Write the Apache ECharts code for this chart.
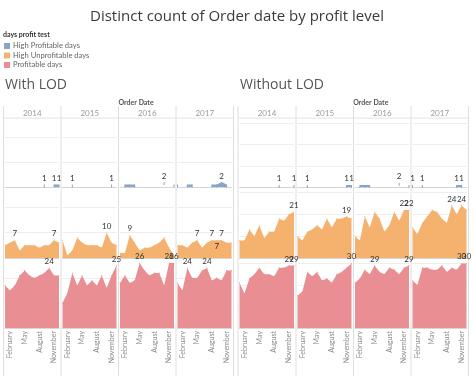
<!DOCTYPE html>
<html><head><meta charset="utf-8">
<script src="https://cdn.jsdelivr.net/npm/echarts@6/dist/echarts.min.js"></script>
<style>html,body{margin:0;padding:0;background:#fff}#c{width:474px;height:383px}</style>
</head><body><div id="c"></div>
<script>
const months = ['January','February','March','April','May','June','July','August','September','October','November','December'];
const years = ['2014','2015','2016','2017'];
const seriesNames = ['High Profitable days','High Unprofitable days','Profitable days'];
const panelTitles = ['With LOD','Without LOD'];

// With LOD (one list of 12 months per year 2014..2017)
const withLodHighProfitable = [
  [null,null,null,null,null,null,null,null,1,null,1,1],
  [null,null,1,null,null,null,null,null,null,null,1,null],
  [null,1,1,1,null,null,null,null,null,2,null,1],
  [1,null,1,1,null,null,null,1,1,2,1,null]
];
const withLodHighUnprofitable = [
  [5,6,7,3,5,5,5,4,5,5,7,6],
  [7,1,3,8,6,5,5,5,4,10,6,5],
  [2,2,9,6,3,4,4,5,6,8,4,1],
  [5,5,4,6,7,4,6,7,7,7,6,6]
];
const withLodProfitable = [
  [17,15,17,21,23,21,20,21,22,24,21,21],
  [10,14,22,17,21,17,19,17,21,16,21,25],
  [18,21,18,19,26,23,21,22,22,17,26,26],
  [18,15,24,20,20,23,24,19,20,19,23,23]
];
// Without LOD
const withoutLodHighProfitable = [
  [null,null,null,null,null,null,null,null,1,null,null,1],
  [null,null,1,null,null,null,null,null,null,null,1,1],
  [null,1,1,1,null,null,null,null,null,2,null,1],
  [1,null,1,null,null,null,null,null,null,1,1,null]
];
const withoutLodHighUnprofitable = [
  [8,8,13,10,15,9,12,12,18,17,20,21],
  [10,8,12,13,15,13,18,14,18,18,19,18],
  [10,8,19,14,21,18,12,15,21,17,22,22],
  [14,11,16,19,22,21,18,16,24,20,24,22]
];
const withoutLodProfitable = [
  [21,16,23,25,28,25,25,24,28,28,29,29],
  [15,17,26,24,26,22,23,21,25,26,28,30],
  [21,23,27,25,29,26,25,28,27,25,28,29],
  [22,20,28,28,27,27,29,26,28,27,30,30]
];

const colors = ['#87a5c7','#f5b26e','#e98f93'];
const FONT = 'Lato';
const panels = [
  {data:[withLodHighProfitable, withLodHighUnprofitable, withLodProfitable], max:28, cols:[3.5,61,118.5,176,233.5]},
  {data:[withoutLodHighProfitable, withoutLodHighUnprofitable, withoutLodProfitable], max:32.5, cols:[238,296,353.5,411,468.5]}
];
const rowTop = [118,187,258], rowBot = [187,258,328];

const option = {
  animation:false,
  title:[
    {text:'Distinct count of Order date by profit level', left:'center', top:9, padding:0,
     textStyle:{fontSize:15, fontWeight:'normal', color:'#3a3a3a', fontFamily:'Open Sans'}},
    {text:'days profit test', left:3, top:31, padding:0,
     textStyle:{fontSize:7, fontWeight:'bold', color:'#333', fontFamily:FONT}},
    {text:panelTitles[0], left:5, top:78, padding:0,
     textStyle:{fontSize:14, fontWeight:'normal', color:'#555', fontFamily:'Open Sans'}},
    {text:panelTitles[1], left:240, top:78, padding:0,
     textStyle:{fontSize:14, fontWeight:'normal', color:'#555', fontFamily:'Open Sans'}}
  ],
  legend:{data:seriesNames.map(n=>({name:n, icon:'rect'})), orient:'vertical', left:4, top:42, padding:0,
    itemWidth:6, itemHeight:6, itemGap:1.5, selectedMode:false,
    textStyle:{fontSize:7.6, lineHeight:6, color:'#666', fontFamily:FONT, padding:[0,0,0,-2]}},
  grid:[], xAxis:[], yAxis:[], series:[], graphic:[]
};

let gi = 0;
panels.forEach((P,p)=>{
  const cx = (P.cols[0]+P.cols[4])/2;
  option.graphic.push({type:'text', left:cx, top:99, style:{text:'Order Date', x:0, fill:'#555', font:'bold 7px '+FONT, textAlign:'center'}, silent:true});
  option.graphic.push({type:'line', shape:{x1:P.cols[0], y1:118, x2:P.cols[4], y2:118}, style:{stroke:'#e6e6e6', lineWidth:1}, silent:true});
  P.cols.forEach(x=>{
    option.graphic.push({type:'line', shape:{x1:x, y1:106, x2:x, y2:376}, style:{stroke:'#dedede', lineWidth:1}, silent:true});
  });
  for(let c=0;c<4;c++){
    const L = P.cols[c], R = P.cols[c+1];
    option.graphic.push({type:'text', x:(L+R)/2, y:109, style:{text:years[c], fill:'#9a9a9a', font:'8px '+FONT, textAlign:'center'}, silent:true});
    for(let r=0;r<3;r++){
      option.grid.push({left:L+1.5, width:R-L-3.5, top:rowTop[r], height:rowBot[r]-rowTop[r]});
      option.xAxis.push({gridIndex:gi, type:'category', data:months, boundaryGap:false,
        axisLine:{show:true, lineStyle:{color:'#d6d6d6'}}, axisTick:{show:false},
        axisLabel: r===2 ? {show:true, rotate:90, interval:(i)=>i%3===1, fontSize:7, color:'#8a8a8a', fontFamily:FONT, margin:3}
                         : {show:false},
        splitLine:{show:false}});
      option.yAxis.push({gridIndex:gi, type:'value', min:0, max:P.max, interval:10,
        axisLine:{show:false}, axisTick:{show:false}, axisLabel:{show:false},
        splitLine:{show:true, lineStyle:{color:'#eeeeee'}}});
      const vals = P.data[r][c];
      const mx = Math.max(...vals.filter(v=>v!=null));
      const d = vals.map((v,i)=>{
        if(v===mx){
          const below = (p===0 && c===3 && r===1 && i===8);
          return {value:v, label:{show:true, position: below?'bottom':'top'}};
        }
        return v;
      });
      option.series.push({
        name:seriesNames[r], type:'line', xAxisIndex:gi, yAxisIndex:gi, data:d,
        connectNulls:false,
        showSymbol:true,
        symbol: r===0 ? 'rect' : 'circle',
        symbolSize: r===0 ? [1,3] : 1,
        symbolOffset: r===0 ? [0,'50%'] : [0,0],
        itemStyle:{color:colors[r]},
        lineStyle:{width:0, color:colors[r]},
        areaStyle:{color:colors[r], opacity:1},
        label:{show:false, fontSize:8, color:'#333', fontFamily:FONT, distance:2},
        emphasis:{disabled:true}
      });
      gi++;
    }
  }
});

const chart = echarts.init(document.getElementById('c'), null, {renderer:'canvas'});
chart.setOption(option);
</script></body></html>
